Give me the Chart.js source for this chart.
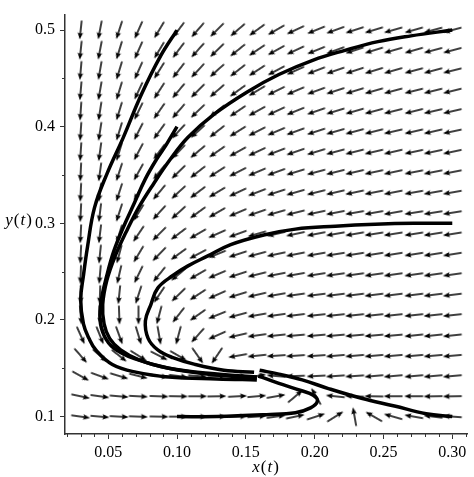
<!DOCTYPE html>
<html>
<head>
<meta charset="utf-8">
<script src="https://cdn.jsdelivr.net/npm/chart.js@4.4.0/dist/chart.umd.min.js"></script>
<style>
  body { margin: 0; background: #fff; }
  canvas { display: block; }
</style>
</head>
<body>
<canvas id="phase" width="474" height="477"></canvas>
<script>
// grid of the direction field
const xGrid = [0.030, 0.044, 0.058, 0.072, 0.087, 0.101, 0.115, 0.129, 0.144, 0.158,
               0.172, 0.186, 0.201, 0.215, 0.229, 0.243, 0.257, 0.272, 0.286, 0.300];
const yGrid = [0.100, 0.121, 0.142, 0.163, 0.184, 0.205, 0.226, 0.247, 0.268, 0.289,
               0.311, 0.332, 0.353, 0.374, 0.395, 0.416, 0.437, 0.458, 0.479, 0.500];

// arrow direction (degrees, counter-clockwise from +x, as seen on screen), one row per yGrid value
const fieldAngles = [
  [352, 355, 357, 358, 359, 0, 0, 1, 2, 4, 8, 12, 18, 32, 100, 150, 164, 170, 173, 176],
  [348, 352, 355, 357, 358, 359, 0, 1, 3, 5, 10, 40, 120, 174, 178, 179, 180, 180, 181, 181],
  [331, 340, 343, 346, 350, 353, 356, 358, 0, 10, 175, 182, 183, 184, 184, 185, 185, 185, 185, 185],
  [311, 318, 322, 328, 333, 330, 305, 236, 190, 186, 184, 184, 184, 185, 185, 185, 185, 185, 185, 185],
  [294, 292, 290, 287, 280, 255, 228, 204, 193, 188, 186, 185, 185, 185, 185, 185, 185, 186, 186, 186],
  [275, 273, 272, 270, 255, 232, 215, 202, 195, 190, 188, 187, 186, 186, 186, 186, 186, 186, 186, 186],
  [270, 268, 264, 252, 236, 224, 213, 204, 197, 193, 190, 188, 187, 187, 187, 187, 187, 187, 187, 187],
  [268, 265, 257, 244, 231, 220, 210, 203, 198, 194, 191, 190, 189, 188, 188, 188, 188, 188, 188, 188],
  [267, 264, 255, 239, 226, 216, 208, 202, 198, 195, 192, 191, 190, 189, 189, 189, 189, 189, 189, 189],
  [267, 263, 253, 236, 225, 217, 210, 204, 200, 196, 193, 192, 191, 190, 190, 189, 189, 189, 189, 189],
  [267, 263, 252, 238, 228, 222, 216, 210, 203, 199, 196, 194, 192, 191, 190, 190, 190, 189, 189, 189],
  [267, 263, 252, 240, 230, 223, 217, 211, 205, 201, 198, 196, 194, 193, 192, 191, 191, 190, 190, 190],
  [267, 262, 252, 241, 231, 224, 218, 213, 207, 203, 200, 197, 195, 194, 193, 192, 192, 191, 191, 191],
  [266, 262, 253, 242, 233, 226, 220, 215, 209, 205, 201, 199, 197, 195, 194, 193, 193, 192, 192, 192],
  [266, 261, 253, 243, 234, 227, 222, 218, 212, 207, 203, 200, 198, 196, 195, 194, 193, 193, 193, 192],
  [266, 261, 253, 244, 235, 229, 224, 219, 214, 209, 205, 202, 199, 197, 196, 195, 194, 194, 193, 193],
  [265, 260, 253, 245, 237, 230, 225, 221, 216, 211, 206, 203, 200, 198, 197, 196, 195, 194, 194, 194],
  [265, 260, 253, 246, 238, 232, 227, 222, 218, 213, 208, 204, 201, 199, 198, 197, 196, 195, 195, 194],
  [264, 259, 253, 246, 239, 233, 228, 224, 219, 214, 209, 205, 202, 200, 198, 197, 196, 196, 195, 195],
  [264, 259, 252, 246, 239, 233, 229, 225, 221, 216, 210, 205, 202, 200, 198, 197, 196, 196, 195, 195]
];

// solution curves [x, y]
const curve1 = [[0.100, 0.500], [0.088, 0.473], [0.074, 0.433], [0.061, 0.389], [0.049, 0.351],
  [0.040, 0.316], [0.035, 0.276], [0.032, 0.246], [0.030, 0.221], [0.032, 0.196], [0.036, 0.181],
  [0.041, 0.169], [0.053, 0.154], [0.070, 0.146], [0.094, 0.141], [0.129, 0.139], [0.158, 0.138]];
const curve2 = [[0.100, 0.400], [0.092, 0.381], [0.085, 0.366], [0.077, 0.346], [0.069, 0.321],
  [0.061, 0.296], [0.054, 0.271], [0.049, 0.246], [0.045, 0.221], [0.044, 0.201], [0.047, 0.184],
  [0.054, 0.171], [0.069, 0.160], [0.094, 0.150], [0.129, 0.143], [0.158, 0.140]];
const curve3 = [[0.300, 0.500], [0.270, 0.494], [0.246, 0.488], [0.222, 0.479], [0.199, 0.469],
  [0.174, 0.454], [0.151, 0.436], [0.127, 0.413], [0.108, 0.389], [0.095, 0.366], [0.083, 0.341],
  [0.072, 0.316], [0.063, 0.291], [0.055, 0.266], [0.049, 0.241], [0.046, 0.216], [0.047, 0.196],
  [0.051, 0.181], [0.059, 0.169], [0.072, 0.159], [0.094, 0.150], [0.129, 0.144], [0.158, 0.141]];
const curve4 = [[0.300, 0.300], [0.272, 0.300], [0.244, 0.299], [0.215, 0.297], [0.186, 0.294],
  [0.163, 0.288], [0.139, 0.278], [0.122, 0.266], [0.108, 0.256], [0.097, 0.246], [0.086, 0.233],
  [0.081, 0.216], [0.077, 0.199], [0.079, 0.181], [0.086, 0.169], [0.097, 0.161], [0.113, 0.154],
  [0.134, 0.148], [0.156, 0.146]];
const curve5 = [[0.100, 0.100], [0.129, 0.100], [0.165, 0.102], [0.186, 0.104], [0.197, 0.109],
  [0.202, 0.116], [0.199, 0.122], [0.190, 0.127], [0.177, 0.133], [0.165, 0.139], [0.159, 0.142]];
const curve6 = [[0.300, 0.100], [0.281, 0.103], [0.258, 0.111], [0.234, 0.119], [0.210, 0.129],
  [0.191, 0.138], [0.174, 0.144], [0.160, 0.148]];
const curves = [curve1, curve2, curve3, curve4, curve5, curve6];

// axes
const xTicks = [0.05, 0.10, 0.15, 0.20, 0.25, 0.30];
const yTicks = [0.1, 0.2, 0.3, 0.4, 0.5];
const xMinor = [0.02, 0.03, 0.04, 0.06, 0.07, 0.08, 0.09, 0.11, 0.12, 0.13, 0.14, 0.16, 0.17,
                0.18, 0.19, 0.21, 0.22, 0.23, 0.24, 0.26, 0.27, 0.28, 0.29, 0.31];
const yMinor = [0.15, 0.25, 0.35, 0.45];

const serif = 'Liberation Serif';
const axisColor = '#333';

// arrow glyph used as the point style, pointing to +x
function makeArrow() {
  const c = document.createElement('canvas');
  c.width = 26; c.height = 26;
  const g = c.getContext('2d');
  g.strokeStyle = '#000';
  g.fillStyle = '#000';
  g.lineWidth = 1.5;
  g.beginPath(); g.moveTo(3.5, 13); g.lineTo(19, 13); g.stroke();
  g.beginPath();
  g.moveTo(22.5, 13); g.lineTo(15.5, 10.3); g.lineTo(16.8, 13); g.lineTo(15.5, 15.7);
  g.closePath(); g.fill();
  return c;
}
const arrow = makeArrow();

const fieldPoints = [];
yGrid.forEach((y, j) => {
  xGrid.forEach((x, i) => fieldPoints.push({ x: x, y: y, a: fieldAngles[j][i] }));
});

const datasets = curves.map(c => ({
  data: c.map(p => ({ x: p[0], y: p[1] })),
  showLine: true,
  borderColor: '#000',
  borderWidth: 3.5,
  tension: 0.4,
  pointRadius: 0,
  fill: false,
  order: 0
}));
datasets.push({
  data: fieldPoints,
  showLine: false,
  pointStyle: arrow,
  pointRadius: 6,
  rotation: ctx => -ctx.raw.a,
  order: 1
});

// minor ticks and the axis titles
const extras = {
  id: 'extras',
  afterDraw(chart) {
    const { ctx, scales: { x, y }, chartArea } = chart;
    ctx.save();
    ctx.strokeStyle = axisColor;
    ctx.lineWidth = 1;
    xMinor.forEach(v => {
      const px = Math.round(x.getPixelForValue(v)) + 0.5;
      if (px < chartArea.left || px > chartArea.right) return;
      ctx.beginPath(); ctx.moveTo(px, chartArea.bottom); ctx.lineTo(px, chartArea.bottom + 3); ctx.stroke();
    });
    yMinor.forEach(v => {
      const py = Math.round(y.getPixelForValue(v)) + 0.5;
      ctx.beginPath(); ctx.moveTo(chartArea.left, py); ctx.lineTo(chartArea.left - 3, py); ctx.stroke();
    });

    function label(parts, cx, cy) {
      ctx.fillStyle = '#000';
      ctx.textBaseline = 'middle';
      ctx.textAlign = 'left';
      const fonts = parts.map(p => (p[1] ? 'italic ' : '') + '17px "' + serif + '"');
      let w = 0;
      parts.forEach((p, k) => { ctx.font = fonts[k]; w += ctx.measureText(p[0]).width + 1; });
      let px = cx - w / 2;
      parts.forEach((p, k) => {
        ctx.font = fonts[k];
        ctx.fillText(p[0], px, cy);
        px += ctx.measureText(p[0]).width + 1;
      });
    }
    label([['x', true], ['(', false], ['t', true], [')', false]],
          (chartArea.left + chartArea.right) / 2, 468);
    label([['y', true], ['(', false], ['t', true], [')', false]],
          19, y.getPixelForValue(0.3) - 3);
    ctx.restore();
  }
};

new Chart(document.getElementById('phase'), {
  type: 'scatter',
  data: { datasets: datasets },
  options: {
    responsive: false,
    animation: false,
    layout: { padding: 0 },
    plugins: { legend: { display: false }, tooltip: { enabled: false } },
    scales: {
      x: {
        type: 'linear',
        min: 0.0186,
        max: 0.3107,
        afterBuildTicks: s => { s.ticks = xTicks.map(v => ({ value: v })); },
        afterFit: s => { s.height = 43; },
        ticks: {
          color: '#000',
          padding: 4,
          font: { family: serif, size: 16 },
          callback: v => v.toFixed(2)
        },
        grid: { drawOnChartArea: false, drawTicks: true, tickLength: 5, color: axisColor },
        border: { display: true, color: axisColor, width: 1.5 }
      },
      y: {
        type: 'linear',
        min: 0.082,
        max: 0.516,
        afterBuildTicks: s => { s.ticks = yTicks.map(v => ({ value: v })); },
        afterFit: s => { s.width = 65; },
        ticks: {
          color: '#000',
          padding: 5,
          font: { family: serif, size: 16 },
          callback: v => v.toFixed(1)
        },
        grid: { drawOnChartArea: false, drawTicks: true, tickLength: 5, color: axisColor },
        border: { display: true, color: axisColor, width: 1.5 }
      }
    }
  },
  plugins: [extras]
});
</script>
</body>
</html>
